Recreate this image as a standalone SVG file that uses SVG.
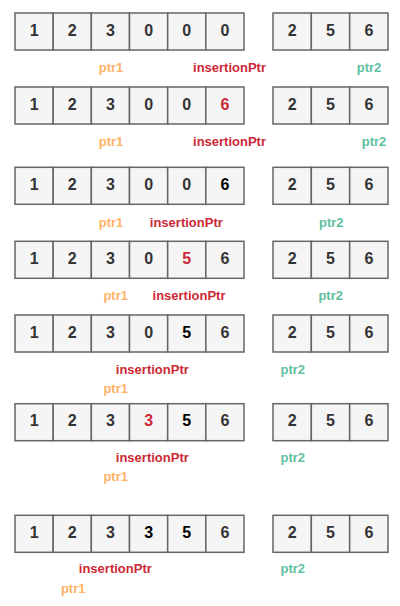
<svg xmlns="http://www.w3.org/2000/svg" width="400" height="606" viewBox="0 0 400 606">
<style>
.c{fill:#f5f5f5;stroke:#666666;stroke-width:1.5}
.n{font-family:"Liberation Sans",Arial,sans-serif;font-weight:bold;font-size:16px;fill:#333333;text-anchor:middle}
.k{fill:#000000}
.r{fill:#CC2936}
.l{font-family:"Liberation Sans",Arial,sans-serif;font-weight:bold;font-size:13px;text-anchor:middle}
.p1{fill:#FFB366}
.ip{fill:#CC2936}
.p2{fill:#5FBF9F}
</style>
<defs>
<g id="a6">
<rect class="c" x="0" y="0" width="38.17" height="37"/>
<rect class="c" x="38.17" y="0" width="38.17" height="37"/>
<rect class="c" x="76.33" y="0" width="38.17" height="37"/>
<rect class="c" x="114.5" y="0" width="38.17" height="37"/>
<rect class="c" x="152.67" y="0" width="38.17" height="37"/>
<rect class="c" x="190.83" y="0" width="38.17" height="37"/>
</g>
<g id="a3">
<rect class="c" x="0" y="0" width="38.33" height="37"/>
<rect class="c" x="38.33" y="0" width="38.33" height="37"/>
<rect class="c" x="76.67" y="0" width="38.33" height="37"/>
</g>
</defs>

<!-- Row 1 -->
<g id="row1-array1" transform="translate(15,13)">
<use href="#a6"/>
<text class="n" x="19.08" y="22.7">1</text><text class="n" x="57.25" y="22.7">2</text><text class="n" x="95.42" y="22.7">3</text><text class="n" x="133.58" y="22.7">0</text><text class="n" x="171.75" y="22.7">0</text><text class="n" x="209.92" y="22.7">0</text>
</g>
<g id="row1-array2" transform="translate(273,13)">
<use href="#a3"/>
<text class="n" x="19.17" y="22.7">2</text><text class="n" x="57.5" y="22.7">5</text><text class="n" x="95.83" y="22.7">6</text>
</g>
<g id="row1-labels">
<text class="l p1" x="111" y="72">ptr1</text>
<text class="l ip" x="229.5" y="72">insertionPtr</text>
<text class="l p2" x="369" y="72">ptr2</text>
</g>

<!-- Row 2 -->
<g id="row2-array1" transform="translate(15,87)">
<use href="#a6"/>
<text class="n" x="19.08" y="22.7">1</text><text class="n" x="57.25" y="22.7">2</text><text class="n" x="95.42" y="22.7">3</text><text class="n" x="133.58" y="22.7">0</text><text class="n" x="171.75" y="22.7">0</text><text class="n r" x="209.92" y="22.7">6</text>
</g>
<g id="row2-array2" transform="translate(273,87)">
<use href="#a3"/>
<text class="n" x="19.17" y="22.7">2</text><text class="n" x="57.5" y="22.7">5</text><text class="n" x="95.83" y="22.7">6</text>
</g>
<g id="row2-labels">
<text class="l p1" x="111" y="146">ptr1</text>
<text class="l ip" x="229.5" y="146">insertionPtr</text>
<text class="l p2" x="374" y="146">ptr2</text>
</g>

<!-- Row 3 -->
<g id="row3-array1" transform="translate(15,167.3)">
<use href="#a6"/>
<text class="n" x="19.08" y="22.7">1</text><text class="n" x="57.25" y="22.7">2</text><text class="n" x="95.42" y="22.7">3</text><text class="n" x="133.58" y="22.7">0</text><text class="n" x="171.75" y="22.7">0</text><text class="n k" x="209.92" y="22.7">6</text>
</g>
<g id="row3-array2" transform="translate(273,167.3)">
<use href="#a3"/>
<text class="n" x="19.17" y="22.7">2</text><text class="n" x="57.5" y="22.7">5</text><text class="n" x="95.83" y="22.7">6</text>
</g>
<g id="row3-labels">
<text class="l p1" x="111" y="226.5">ptr1</text>
<text class="l ip" x="186.3" y="226.5">insertionPtr</text>
<text class="l p2" x="331.3" y="226.5">ptr2</text>
</g>

<!-- Row 4 -->
<g id="row4-array1" transform="translate(15,241.3)">
<use href="#a6"/>
<text class="n" x="19.08" y="22.7">1</text><text class="n" x="57.25" y="22.7">2</text><text class="n" x="95.42" y="22.7">3</text><text class="n" x="133.58" y="22.7">0</text><text class="n r" x="171.75" y="22.7">5</text><text class="n" x="209.92" y="22.7">6</text>
</g>
<g id="row4-array2" transform="translate(273,241.3)">
<use href="#a3"/>
<text class="n" x="19.17" y="22.7">2</text><text class="n" x="57.5" y="22.7">5</text><text class="n" x="95.83" y="22.7">6</text>
</g>
<g id="row4-labels">
<text class="l p1" x="115.7" y="300">ptr1</text>
<text class="l ip" x="189" y="300">insertionPtr</text>
<text class="l p2" x="330.7" y="300">ptr2</text>
</g>

<!-- Row 5 -->
<g id="row5-array1" transform="translate(15,315)">
<use href="#a6"/>
<text class="n" x="19.08" y="22.7">1</text><text class="n" x="57.25" y="22.7">2</text><text class="n" x="95.42" y="22.7">3</text><text class="n" x="133.58" y="22.7">0</text><text class="n k" x="171.75" y="22.7">5</text><text class="n" x="209.92" y="22.7">6</text>
</g>
<g id="row5-array2" transform="translate(273,315)">
<use href="#a3"/>
<text class="n" x="19.17" y="22.7">2</text><text class="n" x="57.5" y="22.7">5</text><text class="n" x="95.83" y="22.7">6</text>
</g>
<g id="row5-labels">
<text class="l ip" x="152.3" y="374">insertionPtr</text>
<text class="l p1" x="115.7" y="393">ptr1</text>
<text class="l p2" x="292.8" y="374">ptr2</text>
</g>

<!-- Row 6 -->
<g id="row6-array1" transform="translate(15,403.7)">
<use href="#a6"/>
<text class="n" x="19.08" y="22.7">1</text><text class="n" x="57.25" y="22.7">2</text><text class="n" x="95.42" y="22.7">3</text><text class="n r" x="133.58" y="22.7">3</text><text class="n k" x="171.75" y="22.7">5</text><text class="n" x="209.92" y="22.7">6</text>
</g>
<g id="row6-array2" transform="translate(273,403.7)">
<use href="#a3"/>
<text class="n" x="19.17" y="22.7">2</text><text class="n" x="57.5" y="22.7">5</text><text class="n" x="95.83" y="22.7">6</text>
</g>
<g id="row6-labels">
<text class="l ip" x="152.3" y="461.7">insertionPtr</text>
<text class="l p1" x="115.7" y="481">ptr1</text>
<text class="l p2" x="292.8" y="461.7">ptr2</text>
</g>

<!-- Row 7 -->
<g id="row7-array1" transform="translate(15,515.3)">
<use href="#a6"/>
<text class="n" x="19.08" y="22.7">1</text><text class="n" x="57.25" y="22.7">2</text><text class="n" x="95.42" y="22.7">3</text><text class="n k" x="133.58" y="22.7">3</text><text class="n k" x="171.75" y="22.7">5</text><text class="n" x="209.92" y="22.7">6</text>
</g>
<g id="row7-array2" transform="translate(273,515.3)">
<use href="#a3"/>
<text class="n" x="19.17" y="22.7">2</text><text class="n" x="57.5" y="22.7">5</text><text class="n" x="95.83" y="22.7">6</text>
</g>
<g id="row7-labels">
<text class="l ip" x="115.3" y="573.3">insertionPtr</text>
<text class="l p1" x="73.2" y="593.3">ptr1</text>
<text class="l p2" x="292.8" y="573.3">ptr2</text>
</g>
</svg>
